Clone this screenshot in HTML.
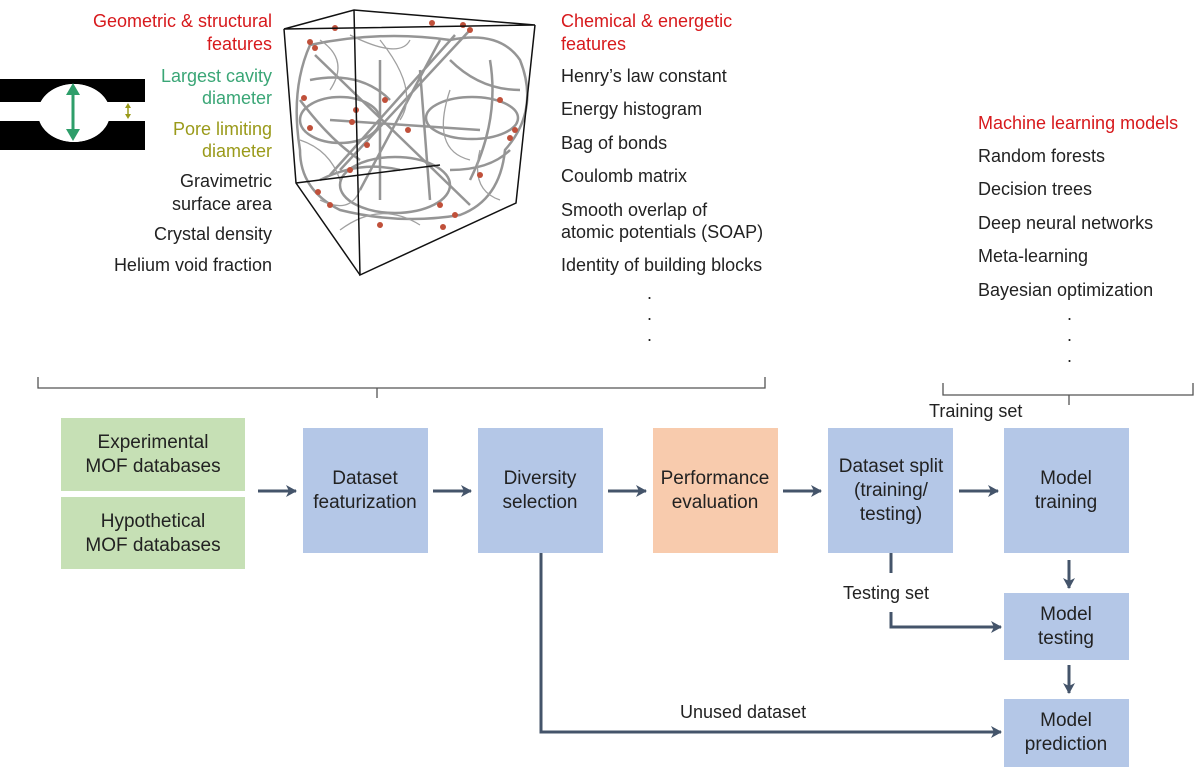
<!DOCTYPE html>
<html><head><meta charset="utf-8"><style>
html,body{margin:0;padding:0;background:#fff;}
svg{display:block;font-family:"Liberation Sans",sans-serif;}
</style></head><body>
<svg width="1200" height="767" viewBox="0 0 1200 767" xmlns="http://www.w3.org/2000/svg">
<defs>
<marker id="ah" markerWidth="14" markerHeight="14" refX="10" refY="6" orient="auto" markerUnits="userSpaceOnUse">
<path d="M0,0 L11,6 L0,12 L3,6 Z" fill="#44546a"/></marker>
</defs>
<!-- pore figure -->
<rect x="0" y="79" width="145" height="23" fill="#000"/>
<rect x="0" y="121" width="145" height="29" fill="#000"/>
<rect x="0" y="102" width="145" height="19" fill="#fff"/>
<ellipse cx="74" cy="113" rx="36" ry="29" fill="#fff"/>
<rect x="33" y="84" width="6" height="18" fill="#000"/>
<rect x="109" y="84" width="6" height="18" fill="#000"/>
<ellipse cx="74" cy="113" rx="36" ry="29" fill="#fff"/>
<line x1="73" y1="90" x2="73" y2="134" stroke="#2e9e6a" stroke-width="3"/>
<path d="M73,83 L66,95 L80,95Z M73,141 L66,129 L80,129Z" fill="#2e9e6a"/>
<line x1="128" y1="106" x2="128" y2="116" stroke="#9a9a1a" stroke-width="1.5"/>
<path d="M128,103 L125,108 L131,108Z M128,119 L125,114 L131,114Z" fill="#9a9a1a"/>

<g font-size="18" text-anchor="end">
<text x="272" y="27" fill="#d7191c">Geometric &amp; structural</text>
<text x="272" y="50" fill="#d7191c">features</text>
<text x="272" y="82" fill="#3aa676">Largest cavity</text>
<text x="272" y="104" fill="#3aa676">diameter</text>
<text x="272" y="135" fill="#9a9a1a">Pore limiting</text>
<text x="272" y="157" fill="#9a9a1a">diameter</text>
<text x="272" y="187" fill="#222">Gravimetric</text>
<text x="272" y="210" fill="#222">surface area</text>
<text x="272" y="240" fill="#222">Crystal density</text>
<text x="272" y="271" fill="#222">Helium void fraction</text>
</g>

<!-- cube -->
<g fill="none" stroke="#8a8a8a" stroke-width="2.5" opacity="0.9">
<ellipse cx="340" cy="120" rx="40" ry="23"/>
<ellipse cx="472" cy="118" rx="46" ry="21"/>
<ellipse cx="395" cy="185" rx="55" ry="28"/>
<path d="M310,45 Q380,30 450,40 Q500,30 520,60 Q540,110 505,150 Q500,200 460,215 Q400,225 340,210 Q300,190 300,150 Q290,90 310,45Z"/>
<path d="M315,55 L470,205 M440,40 L360,190 M470,30 L340,170 M455,35 L330,175 M330,120 L480,130 M380,60 L380,200 M420,70 L430,200"/>
<path d="M310,80 Q360,70 390,100 M450,60 Q480,90 520,90 M320,180 Q360,160 400,170 M450,170 Q490,170 510,150 M300,100 Q330,140 360,160 M490,60 Q500,120 470,180"/>
</g>
<g fill="none" stroke="#a0a0a0" stroke-width="1.3">
<path d="M320,40 Q350,60 330,90 M350,35 Q400,60 410,40 M300,140 Q330,150 340,180 M480,150 Q470,190 500,200 M340,230 Q380,200 420,225 M380,40 Q420,90 400,120 M450,90 Q430,150 470,160 M320,200 Q350,215 360,190"/>
</g>
<g fill="#c0503a">
<circle cx="310" cy="42" r="3"/><circle cx="335" cy="28" r="3"/><circle cx="432" cy="23" r="3"/><circle cx="463" cy="25" r="3"/>
<circle cx="304" cy="98" r="3"/><circle cx="310" cy="128" r="3"/><circle cx="352" cy="122" r="3"/><circle cx="385" cy="100" r="3"/>
<circle cx="408" cy="130" r="3"/><circle cx="500" cy="100" r="3"/><circle cx="510" cy="138" r="3"/><circle cx="350" cy="170" r="3"/>
<circle cx="318" cy="192" r="3"/><circle cx="330" cy="205" r="3"/><circle cx="380" cy="225" r="3"/><circle cx="440" cy="205" r="3"/><circle cx="455" cy="215" r="3"/><circle cx="480" cy="175" r="3"/><circle cx="367" cy="145" r="3"/>
<circle cx="315" cy="48" r="3"/><circle cx="470" cy="30" r="3"/><circle cx="515" cy="130" r="3"/><circle cx="443" cy="227" r="3"/><circle cx="356" cy="110" r="3"/>
</g>
<g fill="none" stroke="#111" stroke-width="1.5">
<path d="M284,29 L354,10 L535,25 L284,29 Z"/>
<path d="M354,10 L360,275 L516,203 L535,25"/>
<path d="M284,29 L296,183 L360,275"/>
<path d="M296,183 L440,165"/>
</g>

<g font-size="18" fill="#222">
<text x="561" y="27" fill="#d7191c">Chemical &amp; energetic</text>
<text x="561" y="50" fill="#d7191c">features</text>
<text x="561" y="82">Henry’s law constant</text>
<text x="561" y="115">Energy histogram</text>
<text x="561" y="149">Bag of bonds</text>
<text x="561" y="182">Coulomb matrix</text>
<text x="561" y="216">Smooth overlap of</text>
<text x="561" y="238">atomic potentials (SOAP)</text>
<text x="561" y="271">Identity of building blocks</text>
<text x="647" y="299">.</text><text x="647" y="320">.</text><text x="647" y="341">.</text>
<text x="978" y="129" fill="#d7191c">Machine learning models</text>
<text x="978" y="162">Random forests</text>
<text x="978" y="195">Decision trees</text>
<text x="978" y="229">Deep neural networks</text>
<text x="978" y="262">Meta-learning</text>
<text x="978" y="296">Bayesian optimization</text>
<text x="1067" y="320">.</text><text x="1067" y="341">.</text><text x="1067" y="362">.</text>
</g>

<!-- brackets -->
<g fill="none" stroke="#555" stroke-width="1.3">
<path d="M38,377 L38,388 L765,388 L765,377 M377,388 L377,398"/>
<path d="M943,383 L943,395 L1193,395 L1193,383 M1069,395 L1069,405"/>
</g>
<text x="929" y="417" font-size="18" fill="#222">Training set</text>

<!-- boxes -->
<rect x="61" y="418" width="184" height="73" fill="#c6e0b5"/>
<rect x="61" y="497" width="184" height="72" fill="#c6e0b5"/>
<rect x="303" y="428" width="125" height="125" fill="#b4c7e7"/>
<rect x="478" y="428" width="125" height="125" fill="#b4c7e7"/>
<rect x="653" y="428" width="125" height="125" fill="#f8cbad"/>
<rect x="828" y="428" width="125" height="125" fill="#b4c7e7"/>
<rect x="1004" y="428" width="125" height="125" fill="#b4c7e7"/>
<rect x="1004" y="593" width="125" height="67" fill="#b4c7e7"/>
<rect x="1004" y="699" width="125" height="68" fill="#b4c7e7"/>

<g font-size="19" fill="#222" text-anchor="middle">
<text x="153" y="448">Experimental</text><text x="153" y="472">MOF databases</text>
<text x="153" y="527">Hypothetical</text><text x="153" y="551">MOF databases</text>
<text x="365" y="484">Dataset</text><text x="365" y="508">featurization</text>
<text x="540" y="484">Diversity</text><text x="540" y="508">selection</text>
<text x="715" y="484">Performance</text><text x="715" y="508">evaluation</text>
<text x="891" y="472">Dataset split</text><text x="891" y="496">(training/</text><text x="891" y="520">testing)</text>
<text x="1066" y="484">Model</text><text x="1066" y="508">training</text>
<text x="1066" y="620">Model</text><text x="1066" y="644">testing</text>
<text x="1066" y="726">Model</text><text x="1066" y="750">prediction</text>
</g>

<!-- arrows -->
<g stroke="#44546a" stroke-width="3" fill="none" marker-end="url(#ah)">
<line x1="258" y1="491" x2="296" y2="491"/>
<line x1="433" y1="491" x2="471" y2="491"/>
<line x1="608" y1="491" x2="646" y2="491"/>
<line x1="783" y1="491" x2="821" y2="491"/>
<line x1="959" y1="491" x2="998" y2="491"/>
<line x1="1069" y1="560" x2="1069" y2="588"/>
<line x1="1069" y1="665" x2="1069" y2="693"/>
<path d="M891,612 L891,627 L1001,627"/>
<path d="M541,553 L541,732 L1001,732"/>
</g>
<line x1="891" y1="553" x2="891" y2="573" stroke="#44546a" stroke-width="3"/>
<g font-size="18" fill="#222">
<text x="843" y="599">Testing set</text>
<text x="680" y="718">Unused dataset</text>
</g>
</svg>
</body></html>
